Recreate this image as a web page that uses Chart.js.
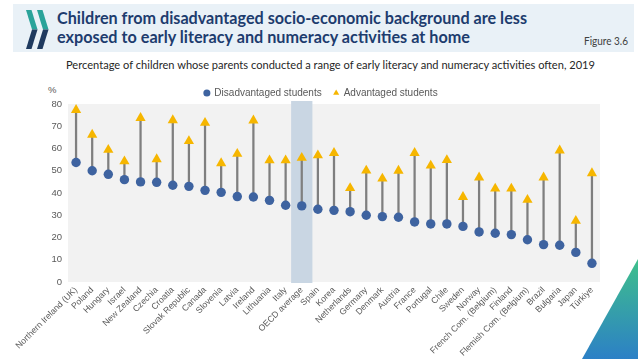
<!DOCTYPE html>
<html><head><meta charset="utf-8">
<script src="https://cdn.jsdelivr.net/npm/chart.js@4.4.1/dist/chart.umd.min.js"></script>
<style>
html,body{margin:0;padding:0;background:#fff;}
body{width:638px;height:359px;position:relative;overflow:hidden;}
#banner{position:absolute;left:13px;top:4px;width:621px;height:48px;background:#e9f1f7;}
#logo{position:absolute;left:0;top:0;}
.fit{position:absolute;white-space:nowrap;transform-origin:0 0;}
#t1,#t2{font-family:Lato,"Open Sans",sans-serif;font-weight:700;font-size:17px;color:#1d3c6e;line-height:20px;}
#t1{left:57px;top:8px}
#t2{left:57px;top:27px}
#fig{left:584px;top:35px;font-family:Lato,sans-serif;font-size:10.5px;line-height:12px;color:#404040;}
#sub{left:66px;top:58px;font-family:Lato,sans-serif;font-size:11.5px;line-height:14px;color:#262626;}
#pct{position:absolute;left:48px;top:84px;font-family:"Liberation Sans",sans-serif;font-size:9.5px;color:#595959;}
#deco{position:absolute;left:582px;top:259px;width:56px;height:100px;clip-path:polygon(100% 0,100% 100%,0 100%);background:linear-gradient(to bottom,#3fc08b,#2c80c6);}
#wrap{position:absolute;left:0;top:80px;width:638px;height:279px;}
</style></head>
<body>
<div id="banner"></div>
<svg id="logo" width="60" height="60">
  <polygon points="26,10 31.5,10 37.5,29.5 32,29.5" fill="#2aa39a"/>
  <polygon points="32,29.5 37.5,29.5 31.5,49 26,49" fill="#1f3a5f"/>
  <polygon points="37,10 42.5,10 48.5,29.5 43,29.5" fill="#2aa39a"/>
  <polygon points="43,29.5 48.5,29.5 42.5,49 37,49" fill="#1f3a5f"/>
</svg>
<div id="t1" class="fit" data-w="470">Children from disadvantaged socio-economic background are less</div>
<div id="t2" class="fit" data-w="413">exposed to early literacy and numeracy activities at home</div>
<div id="fig" class="fit" data-w="44">Figure 3.6</div>
<div id="sub" class="fit" data-w="529">Percentage of children whose parents conducted a range of early literacy and numeracy activities often, 2019</div>
<div id="pct">%</div>
<div id="deco"></div>
<div id="wrap"><canvas id="c" width="638" height="279"></canvas></div>
<script>
const categories = ["Northern Ireland (UK)","Poland","Hungary","Israel","New Zealand","Czechia","Croatia","Slovak Republic","Canada","Slovenia","Latvia","Ireland","Lithuania","Italy","OECD average","Spain","Korea","Netherlands","Germany","Denmark","Austria","France","Portugal","Chile","Sweden","Norway","French Com. (Belgium)","Finland","Flemish Com. (Belgium)","Brazil","Bulgaria","Japan","Türkiye"];
const disadvantaged = [53.7,50,48.4,46,45,44.8,43.5,43,41.2,40.3,38.4,38.2,36.7,34.5,34.2,32.7,32.2,31.6,30,29.4,29.1,27,26.1,26.1,25,22.5,21.9,21.3,19,16.8,16.5,13.3,8.4];
const advantaged = [77.3,66.2,59.4,54.2,73.7,55.2,72.7,63.3,71.5,53.4,57.6,72.6,54.7,54.7,55.8,56.9,58,42.2,50.1,46.5,50,58,52.3,54.8,38.2,47,42,42,36.9,47,59.1,27.5,48.9];
const yTicks = [0,10,20,30,40,50,60,70,80];
const seriesNames = ["Disadvantaged students","Advantaged students"];
const highlightCategory = "OECD average";

document.querySelectorAll('.fit').forEach(el=>{
  const w = el.getBoundingClientRect().width;
  const t = parseFloat(el.dataset.w);
  if (w>0) el.style.transform = 'scaleX(' + (t/w) + ')';
});

const sans = '"Liberation Sans",Arial,sans-serif';
const ranges = categories.map((c,i)=>[disadvantaged[i], advantaged[i]]);
const LEG_FONT = 10, LEG_PAD = 12, RIGHT_PAD = 38;

const bgPlugin = {
  id:'bg',
  beforeDraw(chart){
    const {ctx, chartArea:a} = chart;
    ctx.save(); ctx.fillStyle='#f2f2f2';
    ctx.fillRect(a.left,a.top,a.right-a.left,a.bottom-a.top);
    ctx.restore();
  },
  beforeDatasetsDraw(chart){
    const {ctx, chartArea:a} = chart; const x = chart.scales.x;
    const i = categories.indexOf(highlightCategory);
    const cx = x.getPixelForValue(i);
    const w = (x.getPixelForValue(1)-x.getPixelForValue(0))*1.32;
    ctx.save(); ctx.fillStyle='#c9d6e3';
    ctx.fillRect(cx-w/2, a.top-3, w, a.bottom-a.top+4);
    ctx.restore();
  }
};
const legendFix = {
  id:'legendFix',
  afterInit(chart){
    const lg = chart.legend; if(!lg) return;
    const f = lg.fit, d = lg._draw;
    lg.fit = function(){ f.call(this); if(this.options.display) this.height = 24; };
    lg._draw = function(){ const c=this.ctx; c.save(); c.translate(RIGHT_PAD/2 + 2, 13 - (LEG_PAD + LEG_FONT/2)); d.call(this); c.restore(); };
  }
};

new Chart(document.getElementById('c'), {
  type:'bar',
  data:{
    labels:categories,
    datasets:[
      {type:'bar', label:'range', data:ranges, backgroundColor:'#7f7f7f', barThickness:1.6, order:3},
      {type:'line', label:seriesNames[0], data:disadvantaged, showLine:false, pointStyle:'circle', pointRadius:4.7, pointBackgroundColor:'#3e63a0', pointBorderWidth:0, backgroundColor:'#3e63a0', borderColor:'#3e63a0', borderWidth:0, order:2},
      {type:'line', label:seriesNames[1], data:advantaged, showLine:false, pointStyle:'triangle', pointRadius:5.9, pointBackgroundColor:'#f6b600', pointBorderWidth:0, backgroundColor:'#f6b600', borderColor:'#f6b600', borderWidth:0, order:1}
    ]
  },
  options:{
    responsive:false, animation:false, devicePixelRatio:1,
    layout:{padding:{left:0,right:RIGHT_PAD,top:0,bottom:0}},
    plugins:{
      tooltip:{enabled:false},
      legend:{
        display:true, position:'top',
        labels:{usePointStyle:true, boxWidth:5, boxHeight:5, padding:LEG_PAD, color:'#595959', font:{family:sans,size:LEG_FONT},
          filter:(it)=>it.datasetIndex!==0, sort:(a,b)=>a.datasetIndex-b.datasetIndex}
      }
    },
    scales:{
      x:{offset:true, grid:{display:false, drawTicks:false}, border:{display:false},
        ticks:{autoSkip:false, minRotation:45, maxRotation:45, padding:3, color:'#595959', font:{family:sans,size:8.7}},
        afterFit(s){ s.height = 77; s.paddingLeft = 0; s.paddingRight = 0; }},
      y:{min:0, max:80, grid:{display:false, drawTicks:false}, border:{display:false},
        afterBuildTicks(s){ s.ticks = yTicks.map(v=>({value:v})); },
        ticks:{padding:6, color:'#595959', font:{family:sans,size:9.5}},
        afterFit(s){ s.width = 68; }}
    }
  },
  plugins:[bgPlugin, legendFix]
});
</script>
</body></html>
